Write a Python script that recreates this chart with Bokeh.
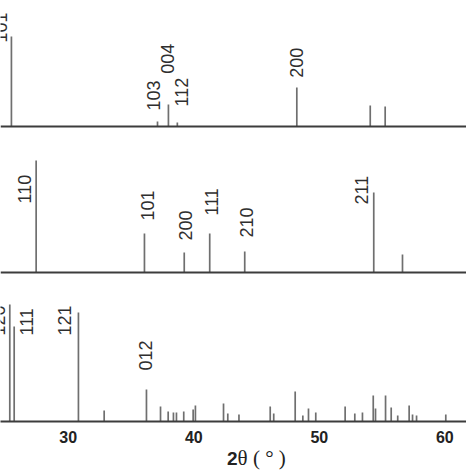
import numpy as np
from bokeh.plotting import figure
from bokeh.models import Range1d, Span, ColumnDataSource, Div
from bokeh.layouts import column
from bokeh.core.properties import value
from bokeh.embed import file_html
from bokeh.resources import INLINE

# ---------------- data ----------------
# Anatase reference pattern (top panel)
anatase_2theta = [25.47, 37.11, 37.98, 38.69, 48.21, 54.06, 55.25, 62.62]
anatase_int = [90, 5, 22, 4, 39, 21, 20, 16]
anatase_hkl = ["101", "103", "004", "112", "200", "", "", "204"]

# Rutile reference pattern (middle panel)
rutile_2theta = [27.44, 36.07, 39.24, 41.27, 44.06, 54.34, 56.63]
rutile_int = [112, 39, 20, 39, 21, 80, 18]
rutile_hkl = ["110", "101", "200", "111", "210", "211", ""]

# Brookite reference pattern (bottom panel)
brookite_2theta = [25.34, 25.69, 30.81, 32.86, 36.23, 37.35, 37.96, 38.38, 38.62,
                   39.20, 39.95, 40.13, 42.37, 42.71, 43.60, 46.09, 46.37, 48.08,
                   48.69, 49.14, 49.72, 52.06, 52.83, 53.44, 54.30, 54.48, 55.28,
                   55.73, 56.25, 57.16, 57.43, 57.75, 60.08]
brookite_int = [117, 95, 109, 11, 32, 15, 10, 9, 9,
                10, 12, 16, 18, 8, 7, 15, 8, 30,
                6, 13, 9, 15, 8, 9, 26, 13, 26,
                14, 6, 16, 7, 6, 7]
brookite_hkl = ["120", "111", "121", "", "012"] + [""] * 28

x_ticks = [30, 40, 50, 60]

# ---------------- layout / style (not data) ----------------
panel_base = {"anatase": 295, "rutile": 149, "brookite": 0}
# label placement offsets in screen px (dx right, dy up from peak top)
label_dx = {
    "anatase": [-10.5, -4.5, -1.3, 3.8, 0.0, 0, 0, 1.0],
    "rutile": [-12, 3, 1.3, 1.7, 1.3, -12, 0],
    "brookite": [-11, 12.6, -14.3, 0, -1] + [0] * 28,
}
label_dy = {
    "anatase": [-6, 11, 30.7, 16, 9.7, 0, 0, 8],
    "rutile": [-43, 13, 12, 18, 14, -12, 0],
    "brookite": [-31, -9, -23, 0, 19] + [0] * 28,
}

PEAK_COLOR = "#6f6f6f"
BASE_COLOR = "#3c3c3c"
TEXT_COLOR = "#2e2e2e"

p = figure(width=466, height=450, output_backend="svg", toolbar_location=None,
           x_range=Range1d(24.60, 61.73), y_range=Range1d(0, 421),
           min_border_left=0, min_border_right=0, min_border_top=0,
           min_border_bottom=29)
p.outline_line_color = None
p.xgrid.visible = False
p.ygrid.visible = False
p.yaxis.visible = False
p.background_fill_color = "white"
p.border_fill_color = "white"

panels = [("anatase", anatase_2theta, anatase_int, anatase_hkl),
          ("rutile", rutile_2theta, rutile_int, rutile_hkl),
          ("brookite", brookite_2theta, brookite_int, brookite_hkl)]

for name, tt, inten, hkl in panels:
    base = panel_base[name]
    src = ColumnDataSource(dict(
        x=tt,
        y0=[base] * len(tt),
        y1=[base + v for v in inten],
        hkl=hkl,
        dx=label_dx[name],
        dy=[-d for d in label_dy[name]],
    ))
    p.segment(x0="x", y0="y0", x1="x", y1="y1", source=src,
              line_color=PEAK_COLOR, line_width=1.7)
    p.text(x="x", y="y1", text="hkl", source=src, angle=np.pi / 2,
           x_offset="dx", y_offset="dy",
           text_align="left", text_baseline="middle",
           text_font=value("Liberation Sans"), text_font_size="18px",
           text_color=TEXT_COLOR)
    if base > 0:
        p.add_layout(Span(location=base, dimension="width",
                          line_color=BASE_COLOR, line_width=2))

ax = p.xaxis[0]
ax.ticker = x_ticks
ax.axis_line_color = BASE_COLOR
ax.axis_line_width = 2
ax.major_tick_line_color = None
ax.minor_tick_line_color = None
ax.major_tick_out = 0
ax.major_tick_in = 0
ax.minor_tick_out = 0
ax.major_label_standoff = 9
ax.major_label_text_font = "Liberation Sans"
ax.major_label_text_font_style = "bold"
ax.major_label_text_font_size = "16px"
ax.major_label_text_color = "#222222"

# x-axis title: bold sans "2" followed by serif "θ ( ° )"
title = Div(
    text='<span style="font-family:\'Liberation Sans\';font-weight:bold;font-size:19px">2</span>'
         '<span style="font-family:\'Liberation Serif\';font-size:21px">θ ( ° )</span>',
    width=466, height=16, margin=(0, 0, 0, 0),
    styles={"padding-left": "227px", "line-height": "16px", "color": "#222222",
            "overflow": "visible", "white-space": "nowrap"},
)

layout = column(p, title, spacing=0)
open("out.html", "w").write(file_html(layout, INLINE))
